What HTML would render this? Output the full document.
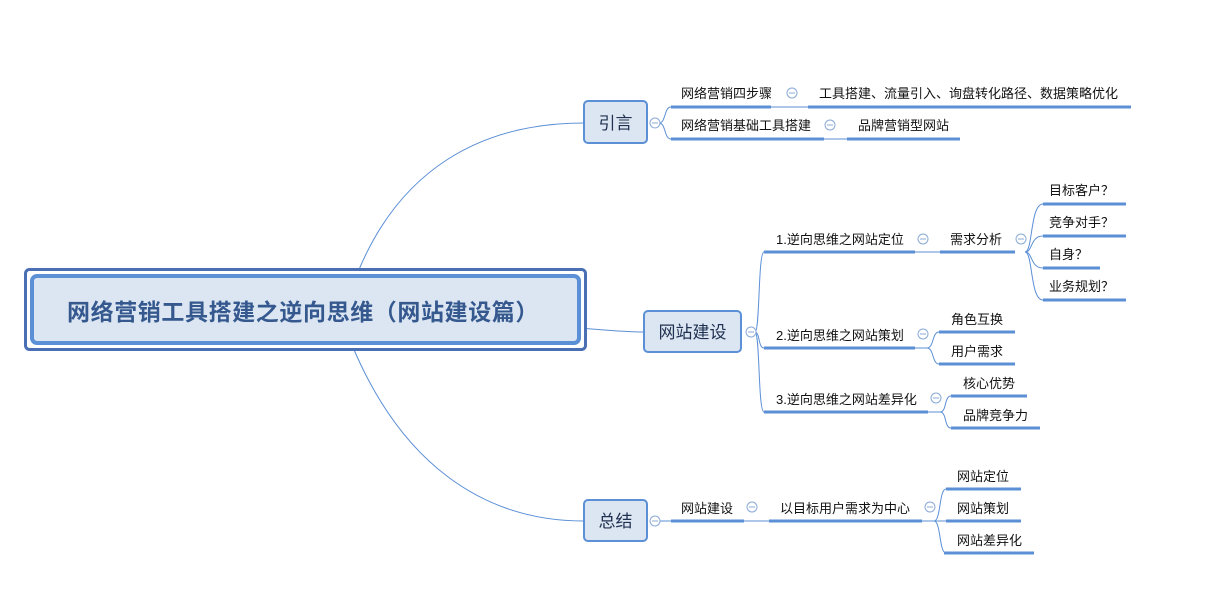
<!DOCTYPE html>
<html><head><meta charset="utf-8"><style>
html,body{margin:0;padding:0;background:#fff;}
svg text{font-family:"Liberation Sans","Noto Sans CJK SC",sans-serif;font-size:13px;fill:#111;}
</style></head><body>
<svg width="1215" height="591" viewBox="0 0 1215 591" xmlns="http://www.w3.org/2000/svg">
<g fill="none" stroke="#5b8fd6" stroke-width="1">
<path d="M358 272 C400 170 480 123 584 123"/>
<path d="M580 328 C605 330 620 332 644 332"/>
<path d="M352 345 C400 460 480 521 584 521"/>
<path d="M659 123 C666 123 664 107 671 107"/>
<path d="M659 123 C666 123 664 139 671 139"/>
<path d="M771 107 H808 M824 139 H847"/>
<path d="M755 332 C760 332 758 252 764 252"/>
<path d="M755 332 C760 332 758 348 764 348"/>
<path d="M755 332 C760 332 758 412 764 412"/>
<path d="M915 252 H940"/>
<path d="M1025 252 C1033 252 1030 204 1043 204"/>
<path d="M1025 252 C1033 252 1030 236 1043 236"/>
<path d="M1025 252 C1033 252 1030 268 1043 268"/>
<path d="M1025 252 C1033 252 1030 300 1043 300"/>
<path d="M915 348 H927 C934 348 932 332 939 332"/>
<path d="M927 348 C934 348 932 364 939 364"/>
<path d="M928 412 H940 C947 412 944 396 951 396"/>
<path d="M940 412 C947 412 944 428 951 428"/>
<path d="M659 521 H671"/>
<path d="M744 521 H769"/>
<path d="M922 521 H934 C941 521 939 489 946 489"/>
<path d="M934 521 H946"/>
<path d="M934 521 C941 521 939 553 946 553"/>
</g>
<g stroke="#5b8fd6" stroke-width="3">
<path d="M671 107 H771 M808 107 H1131 M671 139 H824 M847 139 H960"/>
<path d="M764 252 H915 M940 252 H1015 M1043 204 H1126 M1043 236 H1126 M1043 268 H1100 M1043 300 H1126"/>
<path d="M764 348 H915 M939 332 H1015 M939 364 H1015"/>
<path d="M764 412 H928 M951 396 H1027 M951 428 H1040"/>
<path d="M671 521 H744 M769 521 H922 M946 489 H1021 M946 521 H1021 M944 553 H1034"/>
</g>
<rect x="25.5" y="269.5" width="560" height="80" rx="4" fill="#fff" stroke="#4a6fb5" stroke-width="3"/>
<rect x="32" y="276" width="547" height="67" rx="5" fill="#dce6f2" stroke="#5b8fd6" stroke-width="4"/>
<text x="303" y="320" text-anchor="middle" style="font-size:23px;font-weight:bold;fill:#35598f;letter-spacing:0.6px">网络营销工具搭建之逆向思维（网站建设篇）</text>
<g fill="#dce6f2" stroke="#5b8fd6" stroke-width="2">
<rect x="584" y="101" width="63" height="42" rx="4"/>
<rect x="644" y="311" width="97" height="41" rx="4"/>
<rect x="584" y="500" width="63" height="41" rx="4"/>
</g>
<text x="615.5" y="129" text-anchor="middle" style="font-size:17px;fill:#1f3050">引言</text>
<text x="692.5" y="338" text-anchor="middle" style="font-size:17px;fill:#1f3050">网站建设</text>
<text x="615.5" y="527" text-anchor="middle" style="font-size:17px;fill:#1f3050">总结</text>
<g fill="#fff" stroke="#8aa9d6" stroke-width="1">
<circle cx="655" cy="123" r="5"/><circle cx="792" cy="93" r="5"/><circle cx="830" cy="125" r="5"/>
<circle cx="751" cy="332" r="5"/><circle cx="923" cy="239" r="5"/><circle cx="1021" cy="239" r="5"/>
<circle cx="923" cy="334" r="5"/><circle cx="936" cy="398" r="5"/>
<circle cx="655" cy="521" r="5"/><circle cx="752" cy="507" r="5"/><circle cx="930" cy="507" r="5"/>
</g>
<g stroke="#8aa9d6" stroke-width="1">
<path d="M652 123h6M789 93h6M827 125h6M748 332h6M920 239h6M1018 239h6M920 334h6M933 398h6M652 521h6M749 507h6M927 507h6"/>
</g>
<text x="681" y="98">网络营销四步骤</text>
<text x="819" y="98">工具搭建、流量引入、询盘转化路径、数据策略优化</text>
<text x="681" y="130">网络营销基础工具搭建</text>
<text x="858" y="130">品牌营销型网站</text>
<text x="776" y="244">1.逆向思维之网站定位</text>
<text x="950" y="244">需求分析</text>
<text x="1049" y="195">目标客户？</text>
<text x="1049" y="227">竞争对手？</text>
<text x="1049" y="259">自身？</text>
<text x="1049" y="291">业务规划？</text>
<text x="776" y="340">2.逆向思维之网站策划</text>
<text x="951" y="324">角色互换</text>
<text x="951" y="356">用户需求</text>
<text x="776" y="404">3.逆向思维之网站差异化</text>
<text x="963" y="388">核心优势</text>
<text x="963" y="420">品牌竞争力</text>
<text x="681" y="513">网站建设</text>
<text x="780" y="513">以目标用户需求为中心</text>
<text x="957" y="481">网站定位</text>
<text x="957" y="513">网站策划</text>
<text x="957" y="545">网站差异化</text>
</svg>
</body></html>
